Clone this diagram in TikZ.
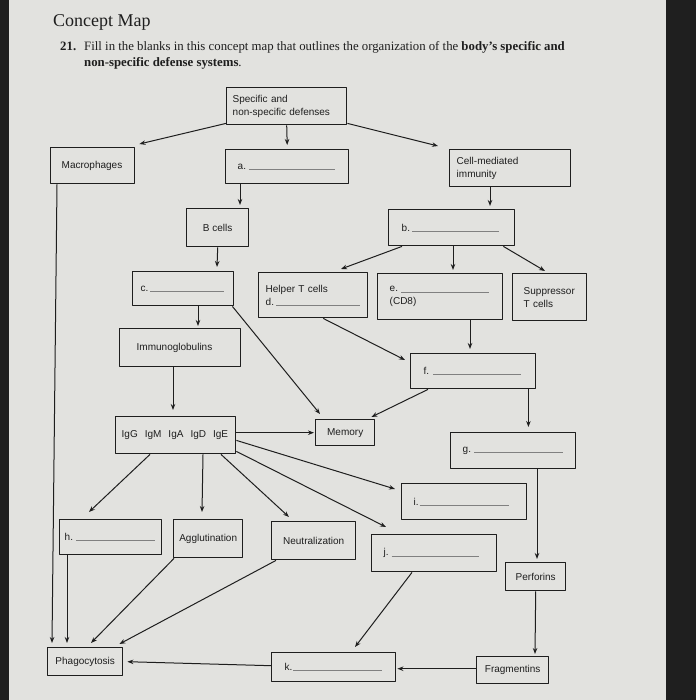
\documentclass[tikz,border=0pt]{standalone}
\usepackage{fontspec}
\setmainfont{Liberation Serif}
\setsansfont{Liberation Sans}
\usetikzlibrary{arrows.meta}
\definecolor{page}{RGB}{226,226,223}
\definecolor{ink}{RGB}{30,30,30}
\newcommand{\blank}[1]{\textcolor{gray}{\rule[-0.5pt]{#1pt}{0.6pt}}}
\begin{document}
\begin{tikzpicture}[x=1pt, y=-1pt, >={Stealth[length=6pt,width=4.5pt]}, line join=round,
    font=\sffamily\fontsize{10}{13}\selectfont,
    box/.style={draw=ink, line width=1.4pt, text=ink, inner ysep=0pt, anchor=north west},
    lbox/.style={box, align=left},
    cbox/.style={box, align=center, inner xsep=0pt},
    arr/.style={->, draw=ink, line width=1pt},
    head/.style={anchor=base west, inner sep=0pt, text=ink, font=\rmfamily\fontsize{12.8}{15}\selectfont}]
    \fill[black!88] (0,0) rectangle (696,700);
    \fill[page] (9,0) rectangle (666,700);
    \useasboundingbox (0,0) rectangle (696,700);
    \node[head, font=\rmfamily\fontsize{18}{20}\selectfont] (title) at (53,27) {Concept Map};
    \node[head] (qnum) at (60,51) {\textbf{21.}};
    \node[head] (qline1) at (84,51) {Fill in the blanks in this concept map that outlines the organization of the \textbf{body’s specific and}};
    \node[head] (qline2) at (84,67) {\textbf{non-specific defense systems}.};
    \node[lbox, text width=108pt, inner xsep=6pt, minimum height=37pt] (spec) at (226,87) {Specific and\\non-specific defenses};
    \node[lbox, text width=62pt, inner xsep=11pt, minimum height=36pt] (macro) at (50,147) {Macrophages};
    \node[lbox, text width=99pt, inner xsep=12pt, minimum height=34pt] (a) at (225,149) {a.\hspace{3pt}\blank{86}};
    \node[lbox, text width=107pt, inner xsep=7pt, minimum height=37pt] (cell) at (449,149) {Cell-mediated\\immunity};
    \node[cbox, minimum width=62pt, minimum height=38pt] (bcells) at (186,208) {B cells};
    \node[lbox, text width=100pt, inner xsep=13pt, minimum height=36pt] (b) at (388,209) {b.\hspace{2pt}\blank{87}};
    \node[lbox, text width=85pt, inner xsep=8pt, minimum height=34pt] (c) at (132,271) {c.\hspace{2pt}\blank{74}};
    \node[lbox, text width=95pt, inner xsep=7pt, minimum height=45pt] (helper) at (258,272) {Helper T cells\\d.\hspace{2pt}\blank{84}};
    \node[lbox, text width=101pt, inner xsep=12pt, minimum height=46pt] (e) at (377,273) {e.\hspace{3pt}\blank{88}\\(CD8)};
    \node[lbox, text width=52pt, inner xsep=11pt, minimum height=47pt] (supp) at (512,273) {Suppressor\\T cells};
    \node[lbox, text width=87pt, inner xsep=17pt, minimum height=38pt] (immuno) at (119,328) {Immunoglobulins};
    \node[lbox, text width=99pt, inner xsep=13pt, minimum height=35pt] (f) at (410,353) {f.\hspace{4pt}\blank{88}};
    \node[lbox, text width=108pt, inner xsep=6pt, minimum height=37pt] (ig) at (115,416) {IgG\hspace{7pt}IgM\hspace{7pt}IgA\hspace{7pt}IgD\hspace{7pt}IgE};
    \node[cbox, minimum width=59pt, minimum height=26pt] (memory) at (315,419) {Memory};
    \node[lbox, text width=101pt, inner xsep=12pt, minimum height=36pt] (g) at (450,432) {g.\hspace{3pt}\blank{89}};
    \node[lbox, text width=101pt, inner xsep=12pt, minimum height=36pt] (i) at (401,483) {i.\hspace{1pt}\blank{89}};
    \node[lbox, text width=92pt, inner xsep=5pt, minimum height=35pt] (h) at (59,519) {h.\hspace{3pt}\blank{79}};
    \node[cbox, minimum width=69pt, minimum height=38pt] (agg) at (173,519) {Agglutination};
    \node[cbox, minimum width=84pt, minimum height=38pt] (neut) at (271,521) {Neutralization};
    \node[lbox, text width=101pt, inner xsep=12pt, minimum height=37pt] (j) at (371,534) {j.\hspace{3pt}\blank{87}};
    \node[cbox, minimum width=60pt, minimum height=28pt] (perf) at (505,562) {Perforins};
    \node[cbox, minimum width=75pt, minimum height=28pt] (phago) at (47,647) {Phagocytosis};
    \node[lbox, text width=98pt, inner xsep=13pt, minimum height=29pt] (k) at (271,652) {k.\hspace{1pt}\blank{89}};
    \node[cbox, minimum width=72pt, minimum height=27pt] (frag) at (476,656) {Fragmentins};
    \draw[arr] ([yshift=2pt]spec.south west) -- ([shift={(4pt,3pt)}]macro.north east);
    \draw[arr] (spec.south) -- ([yshift=4pt]a.north);
    \draw[arr] ([yshift=2pt]spec.south east) -- ([shift={(-11pt,3pt)}]cell.north west);
    \draw[arr] ([xshift=15pt]a.south west) -- ([shift={(54pt,3pt)}]bcells.north west);
    \draw[arr] ([xshift=41pt]cell.south west) -- ([shift={(102pt,3pt)}]b.north west);
    \draw[arr] ([xshift=7pt]macro.south west) -- ([shift={(5pt,4pt)}]phago.north west);
    \draw[arr] (bcells.south) -- ([shift={(85pt,4pt)}]c.north west);
    \draw[arr] ([xshift=14pt]b.south west) -- ([shift={(83pt,3pt)}]helper.north west);
    \draw[arr] ([xshift=65pt]b.south west) -- ([shift={(76pt,3pt)}]e.north west);
    \draw[arr] ([xshift=-12pt]b.south east) -- ([shift={(33pt,2pt)}]supp.north west);
    \draw[arr] ([xshift=66pt]c.south west) -- ([shift={(79pt,2pt)}]immuno.north west);
    \draw[arr] ([xshift=-2pt]c.south east) -- ([shift={(5pt,5pt)}]memory.north west);
    \draw[arr] ([xshift=10pt]helper.south) -- ([shift={(-5pt,-7pt)}]f.north west);
    \draw[arr] ([xshift=93pt]e.south west) -- ([shift={(60pt,4pt)}]f.north west);
    \draw[arr] ([xshift=18pt]f.south west) -- ([shift={(-4pt,2pt)}]memory.north east);
    \draw[arr] ([xshift=-8pt]f.south east) -- ([shift={(-48pt,5pt)}]g.north east);
    \draw[arr] ([xshift=54pt]immuno.south west) -- ([shift={(58pt,6pt)}]ig.north west);
    \draw[arr] ([yshift=2.5pt]ig.east) -- ([xshift=-1pt]memory.west);
    \draw[arr] ([xshift=35pt]ig.south west) -- ([shift={(30pt,7pt)}]h.north west);
    \draw[arr] ([xshift=88pt]ig.south west) -- ([shift={(29pt,7pt)}]agg.north west);
    \draw[arr] ([xshift=106pt]ig.south west) -- ([shift={(18pt,4pt)}]neut.north west);
    \draw[arr] ([yshift=3pt]ig.south east) -- ([shift={(15pt,7pt)}]j.north west);
    \draw[arr] ([yshift=14pt]ig.south east) -- ([shift={(-6pt,-6pt)}]i.north west);
    \draw[arr] ([xshift=87pt]g.south west) -- ([shift={(32pt,3pt)}]perf.north west);
    \draw[arr] ([xshift=8pt]h.south west) -- ([shift={(20pt,4pt)}]phago.north west);
    \draw[arr] ([xshift=1pt]agg.south west) -- ([shift={(44pt,4pt)}]phago.north west);
    \draw[arr] ([xshift=5pt]neut.south west) -- ([shift={(-4pt,3pt)}]phago.north east);
    \draw[arr] ([xshift=41pt]j.south west) -- ([shift={(84pt,5pt)}]k.north west);
    \draw[arr] (perf.south) -- ([shift={(59pt,2pt)}]frag.north west);
    \draw[arr] ([yshift=1.5pt]frag.west) -- ([shift={(1pt,-1.5pt)}]k.east);
    \draw[arr] ([yshift=1.5pt]k.west) -- ([xshift=4pt]phago.east);
\end{tikzpicture}
\end{document}
